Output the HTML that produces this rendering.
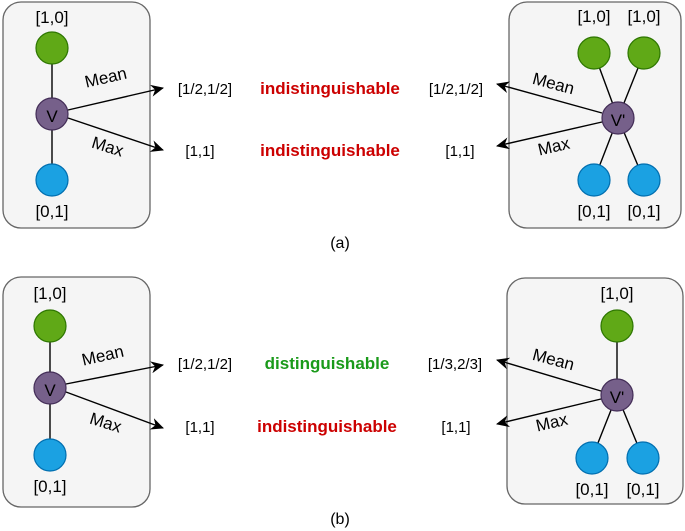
<!DOCTYPE html>
<html><head><style>body{margin:0;background:#fff}svg{display:block}text{font-family:"Liberation Sans",Arial,sans-serif}</style></head><body>
<svg width="685" height="531" viewBox="0 0 685 531">
<defs><marker id="ah" markerWidth="14" markerHeight="12" refX="12" refY="6" orient="auto" markerUnits="userSpaceOnUse"><path d="M0,0 L13,6 L0,12 L4,6 Z" fill="#000"/></marker></defs>
<g stroke="#666" stroke-width="1.3" fill="#f5f5f5">
<rect x="3" y="2" width="147" height="226" rx="18"/>
<rect x="509" y="2" width="172" height="226" rx="18"/>
<rect x="3" y="277" width="147" height="230" rx="18"/>
<rect x="507" y="278" width="176" height="226" rx="18"/>
</g>
<g stroke="#000" stroke-width="1.4">
<line x1="52" y1="48" x2="52" y2="180"/>
<line x1="594" y1="53" x2="618" y2="118"/><line x1="644" y1="53" x2="618" y2="118"/>
<line x1="594" y1="180" x2="618" y2="118"/><line x1="644" y1="180" x2="618" y2="118"/>
<line x1="50" y1="326" x2="50" y2="455"/>
<line x1="617" y1="326" x2="617" y2="395"/>
<line x1="592" y1="458" x2="617" y2="395"/><line x1="643" y1="458" x2="617" y2="395"/>
<g marker-end="url(#ah)" fill="none">
<line x1="68" y1="110" x2="163" y2="88"/><line x1="68" y1="118" x2="163" y2="150"/>
<line x1="602" y1="113" x2="497" y2="84"/><line x1="602" y1="122" x2="497" y2="146"/>
<line x1="66" y1="384" x2="163" y2="365"/><line x1="66" y1="392" x2="163" y2="428"/>
<line x1="601" y1="391" x2="497" y2="360"/><line x1="601" y1="399" x2="497" y2="424"/>
</g></g>
<g stroke-width="1.2">
<g fill="#60a917" stroke="#2d7600">
<circle cx="52" cy="48" r="16"/><circle cx="594" cy="53" r="16"/><circle cx="644" cy="53" r="16"/>
<circle cx="50" cy="326" r="16"/><circle cx="617" cy="326" r="16"/></g>
<g fill="#1ba1e2" stroke="#006eaf">
<circle cx="52" cy="180" r="16"/><circle cx="594" cy="180" r="16"/><circle cx="644" cy="180" r="16"/>
<circle cx="50" cy="455" r="16"/><circle cx="592" cy="458" r="16"/><circle cx="643" cy="458" r="16"/></g>
<g fill="#76608a" stroke="#432d57">
<circle cx="52" cy="114" r="16"/><circle cx="618" cy="118" r="16"/>
<circle cx="50" cy="388" r="16"/><circle cx="617" cy="395" r="16"/></g>
</g>
<g font-size="17" text-anchor="middle" fill="#000">
<text x="52" y="122">V</text><text x="618" y="126">V'</text>
<text x="50" y="396">V</text><text x="617" y="403">V'</text>
<text x="52" y="23">[1,0]</text><text x="52" y="217">[0,1]</text>
<text x="594" y="22">[1,0]</text><text x="644" y="22">[1,0]</text>
<text x="594" y="217">[0,1]</text><text x="644" y="217">[0,1]</text>
<text x="50" y="299">[1,0]</text><text x="50" y="492">[0,1]</text>
<text x="617" y="299">[1,0]</text><text x="592" y="495">[0,1]</text><text x="643" y="495">[0,1]</text>
</g>
<g font-size="17" text-anchor="middle" fill="#000">
<text x="107" y="83" transform="rotate(-13 107 83)">Mean</text>
<text x="106" y="152" transform="rotate(17 106 152)">Max</text>
<text x="552" y="89" transform="rotate(15 552 89)">Mean</text>
<text x="555" y="152" transform="rotate(-13 555 152)">Max</text>
<text x="104" y="361" transform="rotate(-13 104 361)">Mean</text>
<text x="104" y="428" transform="rotate(17 104 428)">Max</text>
<text x="552" y="365" transform="rotate(15 552 365)">Mean</text>
<text x="553" y="428" transform="rotate(-13 553 428)">Max</text>
</g>
<g font-size="16" text-anchor="middle" fill="#000">
<text x="340" y="248">(a)</text><text x="340" y="524">(b)</text>
</g>
<g font-size="15" text-anchor="middle" fill="#000">
<text x="205" y="94">[1/2,1/2]</text><text x="200" y="156">[1,1]</text>
<text x="456" y="94">[1/2,1/2]</text><text x="460" y="156">[1,1]</text>
<text x="205" y="369">[1/2,1/2]</text><text x="200" y="432">[1,1]</text>
<text x="455" y="369">[1/3,2/3]</text><text x="456" y="432">[1,1]</text>
</g>
<g font-size="17" font-weight="bold" text-anchor="middle">
<text x="330" y="94" fill="#cc0000">indistinguishable</text>
<text x="330" y="156" fill="#cc0000">indistinguishable</text>
<text x="327" y="369" fill="#1a9a1a">distinguishable</text>
<text x="327" y="432" fill="#cc0000">indistinguishable</text>
</g>
</svg>
</body></html>
